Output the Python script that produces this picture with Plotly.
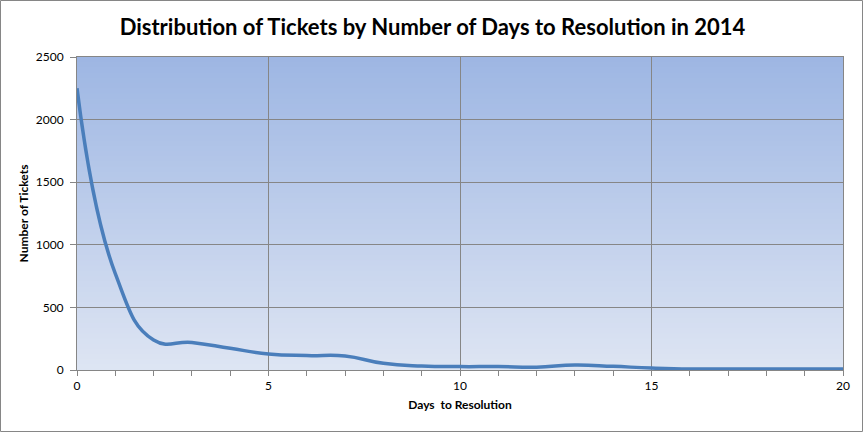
import plotly.graph_objects as go

days = list(range(0, 21))
tickets = [2250, 770, 240, 220, 173, 128, 115, 112, 53, 32, 27, 27, 22, 40, 29, 16, 8, 8, 8, 8, 8]

title_text = "Distribution of Tickets by Number of Days to Resolution in 2014"
x_title = "Days  to Resolution"
y_title = "Number of Tickets"

W, H = 865, 433
L, R, T, B = 77, 22, 57, 63
pw, ph = W - L - R, H - T - B

fig = go.Figure()
fig.add_trace(go.Scatter(
    x=days, y=tickets, mode="lines",
    line=dict(color="#4A7EBB", width=3.5, shape="spline", smoothing=1.3),
    hoverinfo="x+y", showlegend=False,
))

# gradient background strips
shapes = []
n = 60
top = (157, 182, 227)
bot = (222, 229, 243)
for i in range(n):
    f = (i + 0.5) / n
    c = tuple(round(bot[k] + (top[k] - bot[k]) * f) for k in range(3))
    shapes.append(dict(type="rect", xref="x domain", yref="y domain",
                       x0=0, x1=1, y0=i / n, y1=min(1, (i + 2) / n),
                       fillcolor="rgb(%d,%d,%d)" % c, line=dict(width=0),
                       layer="below"))
# outer border
shapes.append(dict(type="rect", xref="paper", yref="paper",
                   x0=(0.5 - L) / pw, x1=(W - 2.5 - L) / pw,
                   y0=(T + ph - (H - 1.5)) / ph, y1=(T + ph - 0.5) / ph,
                   line=dict(color="#868686", width=1), fillcolor="rgba(0,0,0,0)",
                   layer="above"))

font_main = "Lato, sans-serif"
fig.update_layout(
    width=W, height=H,
    margin=dict(l=L, r=R, t=T, b=B),
    paper_bgcolor="white", plot_bgcolor="rgba(0,0,0,0)",
    shapes=shapes,
    title=dict(text="<b>" + title_text + "</b>", x=0.5, xanchor="center",
               y=1 - 27 / H, yanchor="middle", yref="container",
               font=dict(family=font_main, size=22, color="black")),
    font=dict(family=font_main, size=12, color="black"),
    xaxis=dict(range=[0, 20], tick0=0, dtick=5, showgrid=True, gridcolor="#868686",
               gridwidth=1, showline=True, linecolor="#868686", mirror=True,
               ticks="outside", ticklen=5, tickcolor="#868686",
               minor=dict(dtick=1, ticks="outside", ticklen=5, tickcolor="#868686", showgrid=False),
               zeroline=False, tickfont=dict(size=12),
               title=dict(text="<b>" + x_title + "</b>", font=dict(size=12), standoff=8)),
    yaxis=dict(range=[0, 2500], dtick=500, showgrid=True, gridcolor="#868686",
               gridwidth=1, showline=True, linecolor="#868686", mirror=True,
               ticks="outside", ticklen=6, tickcolor="#868686",
               zeroline=False, tickfont=dict(size=12), ticklabelstandoff=4,
               title=dict(text="<b>" + y_title + "</b>", font=dict(size=12), standoff=4)),
)

fig.write_html("out.html", config={"displayModeBar": False},
               post_script="document.body.style.margin='0';document.body.style.overflow='hidden';")
